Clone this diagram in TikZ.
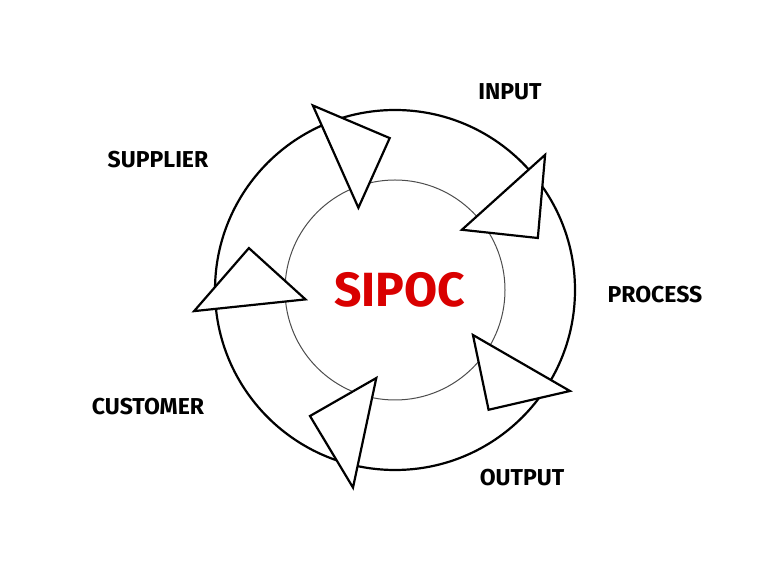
\documentclass[tikz,border=0pt]{standalone}
\usepackage{fontspec}
\setmainfont{Fira Sans}
\usetikzlibrary{calc}
\begin{document}
\begin{tikzpicture}[x=1pt,y=1pt,
  ringline/.style={draw=black,line width=2.2pt,fill=white,line join=miter},
  lbl/.style={font=\fontsize{23}{23}\selectfont\bfseries}]
\useasboundingbox (0,0) rectangle (768,580);
\coordinate (c) at (395,290);
\draw[black,line width=2.2pt] (c) circle[radius=180pt];
\draw[gray!60!black,line width=1pt] (c) circle[radius=110pt];
\foreach \t in {92,20,-52,-124,-196}{
  \draw[ringline] ($(c)+(\t+22:202pt)$) -- ($(c)+(\t:152pt)$) -- ($(c)+(\t+22:90pt)$) -- cycle;
}
\node[font=\fontsize{48}{48}\selectfont\bfseries,text=red!85!black] (s) at (400,290) {SIPOC};
\node[lbl] (i) at (510,488) {INPUT};
\node[lbl] (su) at (158,420) {SUPPLIER};
\node[lbl] (p) at (655,285) {PROCESS};
\node[lbl] (cu) at (148,173) {CUSTOMER};
\node[lbl] (o) at (522,102) {OUTPUT};
\end{tikzpicture}
\end{document}
